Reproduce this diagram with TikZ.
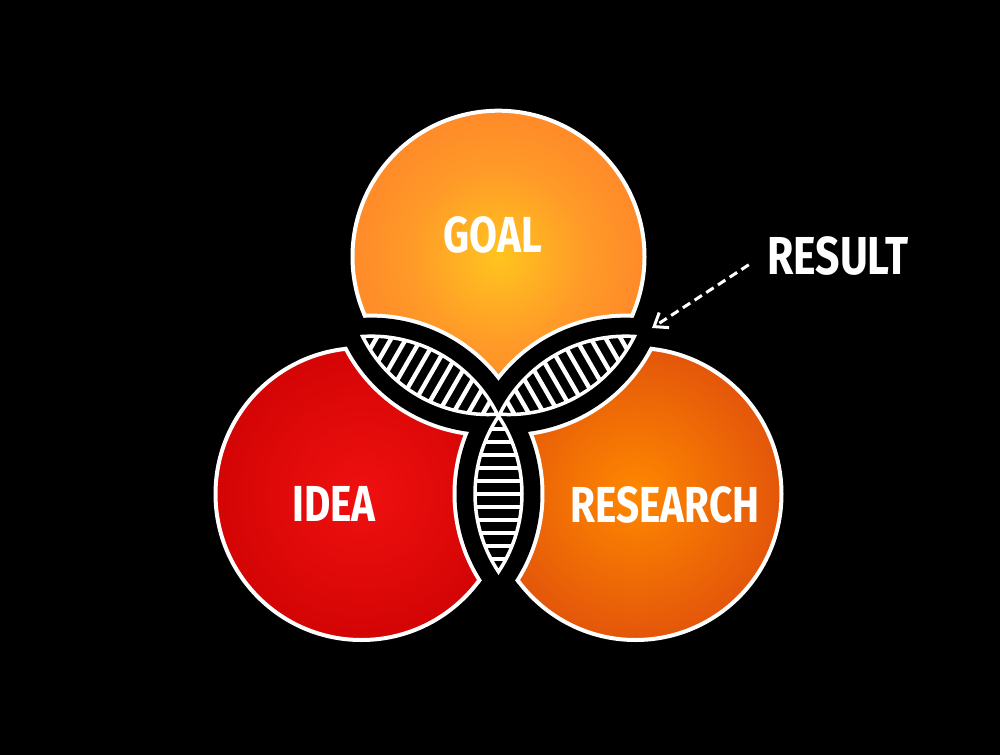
\documentclass[tikz,border=0pt]{standalone}
\usepackage{fontspec}
\usetikzlibrary{arrows.meta}
\newfontfamily\labelfont[FakeStretch=0.8]{Fira Sans}

\definecolor{goalin}{HTML}{FFC41F}
\definecolor{goalmid}{HTML}{FF9A28}
\definecolor{goalout}{HTML}{FF7A2A}
\definecolor{ideain}{HTML}{F01010}
\definecolor{ideaout}{HTML}{C80000}
\definecolor{resin}{HTML}{FF8800}
\definecolor{resout}{HTML}{D8420E}

\pgfdeclareradialshading{goalshade}{\pgfpointorigin}{color(0bp)=(goalin); color(15bp)=(goalmid); color(35bp)=(goalout); color(50bp)=(goalout)}
\pgfdeclareradialshading{ideashade}{\pgfpointorigin}{color(0bp)=(ideain); color(35bp)=(ideaout); color(50bp)=(ideaout)}
\pgfdeclareradialshading{resshade}{\pgfpointorigin}{color(0bp)=(resin); color(35bp)=(resout); color(50bp)=(resout)}

% lens shapes, in lens coordinates
\newcommand{\outerlens}{(0,107.67) arc[start angle=42.62, end angle=-42.62, radius=159] arc[start angle=222.62, end angle=137.38, radius=159] -- cycle}
\newcommand{\innerlens}{(0,77.79) arc[start angle=33.62, end angle=-33.62, radius=140.5] arc[start angle=213.62, end angle=146.38, radius=140.5] -- cycle}

\begin{document}
\begin{tikzpicture}[x=0.25mm, y=0.25mm,
  rim/.style={draw=white, line width=1mm},
  venntext/.style={text=white, font=\labelfont\bfseries\fontsize{36}{40}\selectfont},
  stripe/.style={white, line width=1.1mm},
  resultarrow/.style={white, line width=0.75mm, dash pattern=on 2.2mm off 1.3mm, shorten <=4mm, -{Straight Barb[length=3mm, width=4.5mm]}}]
\fill[black] (0,0) rectangle (1000,-755);
\useasboundingbox (0,0) rectangle (1000,-755);
% circles
\coordinate (goalC) at (498.5,-256.7);
\coordinate (ideaC) at (361.5,-494);
\coordinate (researchC) at (635.5,-494);
\shade[shading=goalshade] (goalC) circle (146);
\shade[shading=ideashade] (ideaC) circle (146);
\shade[shading=resshade] (researchC) circle (146);
\draw[rim] (goalC) circle (146) (ideaC) circle (146) (researchC) circle (146);
% lens rims
\begin{scope}
\clip (goalC) circle (148) (ideaC) circle (148) (researchC) circle (148);
\foreach \mx/\my/\rot in {498.5/-494/0, 430/-375.35/60, 567/-375.35/120}
  \draw[white, line width=2mm, shift={(\mx,\my)}, rotate=\rot] \outerlens;
\end{scope}
\foreach \mx/\my/\rot in {498.5/-494/0, 430/-375.35/60, 567/-375.35/120}
  \fill[black, shift={(\mx,\my)}, rotate=\rot] \outerlens;
% hatching
\foreach \mx/\my/\rot in {498.5/-494/0, 430/-375.35/60, 567/-375.35/120} {
  \begin{scope}[shift={(\mx,\my)}, rotate=\rot]
    \clip \innerlens;
    \foreach \s in {-78,-65,...,78}
      \draw[stripe] (-40,\s) -- (40,\s);
  \end{scope}
  \draw[white, line width=0.875mm, shift={(\mx,\my)}, rotate=\rot] \innerlens;
}
% labels
\node[venntext] (goal) at (493,-235) {GOAL};
\node[venntext] (idea) at (334,-504) {IDEA};
\node[venntext] (research) at (665,-505) {RESEARCH};
\node[venntext, font=\labelfont\bfseries\fontsize{38}{42}\selectfont] (result) at (838,-256) {RESULT};
\coordinate (resultTip) at (652,-328);
\draw[resultarrow] (result.west) -- (resultTip);
\end{tikzpicture}
\end{document}
